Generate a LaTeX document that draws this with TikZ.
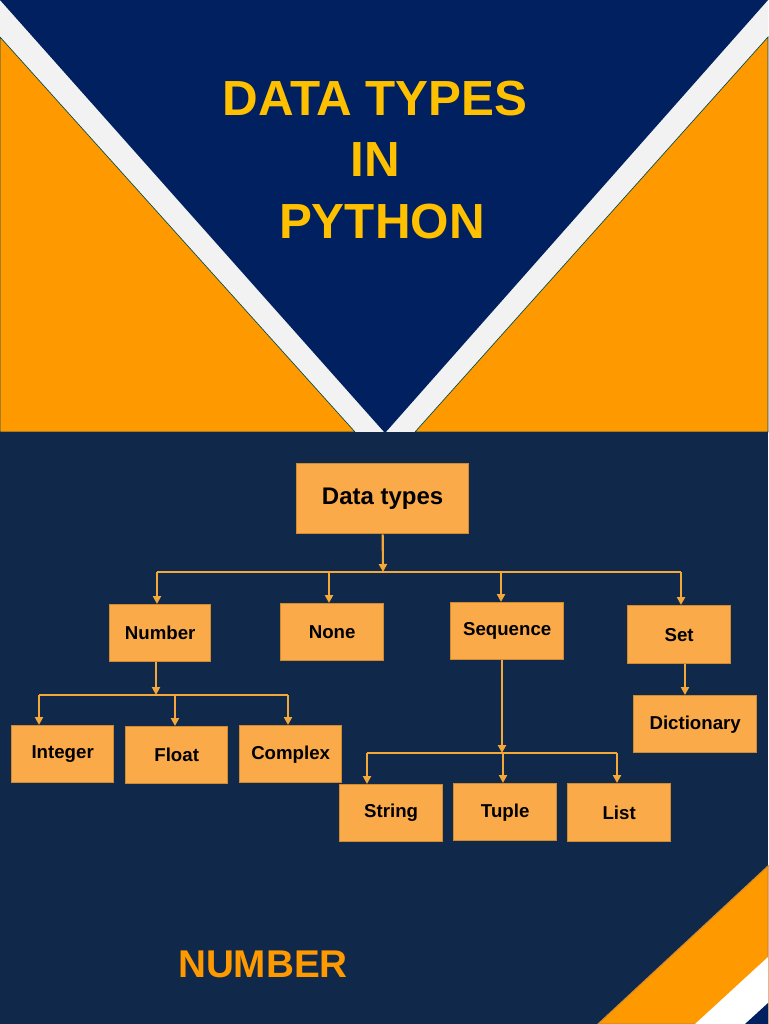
\documentclass[tikz,border=0pt]{standalone}
\usepackage{fontspec}
\setmainfont{Liberation Sans}
\usetikzlibrary{arrows.meta}
\definecolor{navy}{HTML}{00205F}
\definecolor{bgnavy}{HTML}{10294A}
\definecolor{org}{HTML}{FF9900}
\definecolor{boxf}{HTML}{FBAA4A}
\definecolor{boxd}{HTML}{D08A30}
\definecolor{lnc}{HTML}{F5A83A}
\definecolor{ttl}{HTML}{FFC000}
\definecolor{wht}{HTML}{F2F2F2}
\begin{document}
\begin{tikzpicture}[x=0.75pt,y=-0.75pt,
  bx/.style={draw=boxd,line width=1pt,fill=boxf,font=\bfseries\fontsize{14}{16}\selectfont,text=black,inner sep=0pt},
  conn/.style={draw=lnc,line width=1.6pt},
  arr/.style={conn,-{Triangle[length=6pt,width=6pt]}}]
\useasboundingbox (0,0) rectangle (768,1024);
% top section
\fill[wht] (0,0) rectangle (768,433);
\fill[navy] (0,0) -- (768,0) -- (385,433) -- cycle;
\fill[org,draw=teal!60!black,line width=0.5pt] (0,37) -- (355,432) -- (0,432) -- cycle;
\fill[org,draw=teal!60!black,line width=0.5pt] (768,37) -- (415,432) -- (768,432) -- cycle;
\node[text=ttl,font=\bfseries\fontsize{37}{46}\selectfont,align=center] (title) at (375,160) {DATA TYPES\\IN\\\ PYTHON};
% bottom section
\fill[bgnavy] (0,432) rectangle (768,1024);
\fill[org,draw=boxd,line width=0.8pt] (768,866) -- (768,1024) -- (598,1024) -- cycle;
\fill[white] (768,957) -- (768,1024) -- (695,1024) -- cycle;
\fill[navy] (768,1003) -- (768,1024) -- (745,1024) -- cycle;
\node[text=org,font=\bfseries\fontsize{29}{34}\selectfont] (numtitle) at (263,964) {NUMBER};
% boxes
\newcommand{\bxn}[6]{\node[bx,minimum width=#4*0.75pt,minimum height=#5*0.75pt,anchor=north west] (#1) at (#2,#3) {#6};}
\node[bx,font=\bfseries\fontsize{18}{20}\selectfont,minimum width=129pt,minimum height=52.5pt,anchor=north west] (dt) at (296,463) {Data types};
\bxn{num}{109}{604}{101}{57}{Number}
\bxn{none}{280}{603}{103}{57}{None}
\bxn{seq}{450}{602}{113}{57}{Sequence}
\bxn{set}{627}{605}{103}{58}{Set}
\bxn{dict}{633}{695}{123}{57}{Dictionary}
\bxn{int}{11}{725}{102}{57}{Integer}
\bxn{flt}{125}{726}{102}{57}{Float}
\bxn{cpx}{239}{725}{102}{57}{Complex}
\bxn{str}{339}{784}{103}{57}{String}
\bxn{tup}{453}{783}{103}{57}{Tuple}
\bxn{lst}{567}{783}{103}{58}{List}
% junctions
\coordinate (j1) at (383,572);
\coordinate (j2) at (156,695);
\coordinate (j3) at (502,753);
\draw[arr] (dt.south) -- (j1);
\draw[conn] (157,572) -- (681,572);
\draw[arr] (157,572) -- (num.north -| 157,0);
\draw[arr] (329,572) -- (none.north -| 329,0);
\draw[arr] (501,572) -- (seq.north -| 501,0);
\draw[arr] (681,572) -- (set.north -| 681,0);
\draw[arr] (num.south -| j2) -- (j2);
\draw[conn] (39,695) -- (288,695);
\draw[arr] (39,695) -- (int.north -| 39,0);
\draw[arr] (175,695) -- (flt.north -| 175,0);
\draw[arr] (288,695) -- (cpx.north -| 288,0);
\draw[arr] (seq.south -| j3) -- (j3);
\draw[conn] (367,753) -- (617,753);
\draw[arr] (367,753) -- (str.north -| 367,0);
\draw[arr] (503,753) -- (tup.north -| 503,0);
\draw[arr] (617,753) -- (lst.north -| 617,0);
\draw[arr] (set.south -| 685,0) -- (dict.north -| 685,0);
\end{tikzpicture}
\end{document}
